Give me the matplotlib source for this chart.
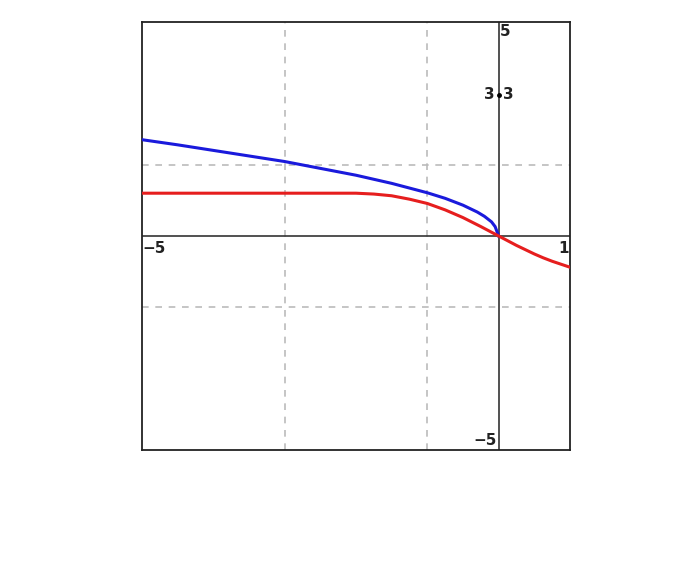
import numpy as np
import matplotlib
matplotlib.use("Agg")
from matplotlib import pyplot as plt

# values
blue_x = [-5, -4.5, -4, -3.5, -3, -2.5, -2, -1.5, -1, -0.75, -0.5, -0.3, -0.2, -0.1, -0.05, 0]
blue_y = [2.25, 2.13, 2.0, 1.87, 1.74, 1.58, 1.42, 1.23, 1.01, 0.88, 0.72, 0.56, 0.46, 0.33, 0.22, 0]

red_x = [-5, -4, -3, -2, -1.75, -1.5, -1.25, -1, -0.75, -0.5, -0.25, 0,
         0.125, 0.25, 0.375, 0.5, 0.625, 0.75, 0.875, 1]
red_y = [1.0, 1.0, 1.0, 1.0, 0.98, 0.94, 0.86, 0.76, 0.61, 0.43, 0.22, 0,
         -0.11, -0.22, -0.32, -0.42, -0.51, -0.59, -0.66, -0.73]

x_grid = [-3, -1]
y_grid = [-5 / 3, 5 / 3]

point_y = 3.3

fig = plt.figure(figsize=(7, 5.81), dpi=100)
ax = fig.add_axes([142 / 700, 131 / 581, 428 / 700, 428 / 581])
ax.set_xlim(-5, 1)
ax.set_ylim(-5, 5)

for gx in x_grid:
    ax.axvline(gx, color="#bbbbbb", lw=1.2, ls=(0, (4, 4)), zorder=1)
for gy in y_grid:
    ax.axhline(gy, color="#bbbbbb", lw=1.2, ls=(0, (4, 4)), zorder=1)
ax.axhline(0, color="#333333", lw=1.2, zorder=2)
ax.axvline(0, color="#333333", lw=1.2, zorder=2)

ax.plot(blue_x, blue_y, color="#1a1adc", lw=2.2, zorder=3)
ax.plot(red_x, red_y, color="#e61e1e", lw=2.2, zorder=4)

ax.plot([0], [point_y], "o", color="black", ms=2.5, zorder=5)

tk = dict(fontsize=11, fontweight="bold", color="#222222")
ax.text(0.02, 4.95, "5", ha="left", va="top", **tk)
ax.text(-0.03, -4.95, "\u22125", ha="right", va="bottom", **tk)
ax.text(-4.99, -0.12, "\u22125", ha="left", va="top", **tk)
ax.text(0.98, -0.12, "1", ha="right", va="top", **tk)
ax.text(-0.06, point_y, "3", ha="right", va="center", **tk)
ax.text(0.06, point_y, "3", ha="left", va="center", **tk)

ax.set_xticks([])
ax.set_yticks([])
for s in ax.spines.values():
    s.set_linewidth(1.3)
    s.set_color("#222222")

fig.savefig("out.png", dpi=100)
